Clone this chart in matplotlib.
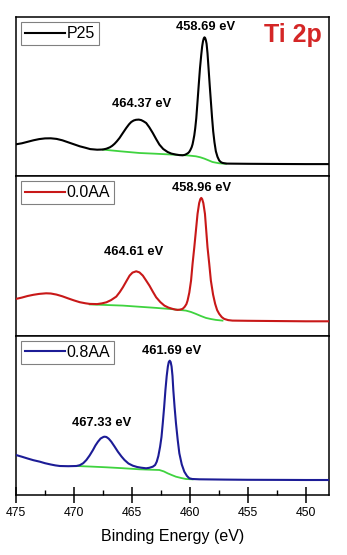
import matplotlib
matplotlib.use("Agg")
import matplotlib.pyplot as plt
from matplotlib.ticker import MultipleLocator

plt.rcParams['font.family'] = ['Liberation Sans', 'DejaVu Sans']

# ---------------- data (binding energy in eV, intensity in arbitrary units) ----------------
p25_energy = [475.0, 474.5, 474.0, 473.5, 473.0, 472.5, 472.0, 471.5, 471.0, 470.5, 470.0,
              469.5, 469.0, 468.6, 468.0, 467.5, 467.2, 466.9, 466.7, 466.5, 466.3, 466.07,
              465.8, 465.49, 465.25, 465.06, 464.85, 464.65, 464.41, 464.2, 464.0, 463.77,
              463.5, 463.2, 462.9, 462.63, 462.3, 461.92, 461.6, 461.2, 460.9, 460.63,
              460.45, 460.3, 460.15, 460.05, 459.95, 459.85, 459.77, 459.7, 459.62, 459.54,
              459.45, 459.34, 459.24, 459.13, 459.02, 458.94, 458.87, 458.8, 458.74, 458.68,
              458.62, 458.56, 458.48, 458.39, 458.29, 458.19, 458.09, 457.99, 457.88, 457.76,
              457.62, 457.47, 457.33, 457.19, 457.0, 456.8, 455.0, 452.0, 450.0, 448.0]
p25_counts = [32.0, 33.0, 34.5, 36.0, 37.2, 37.9, 38.0, 37.4, 36.0, 34.0, 32.0,
              30.0, 28.5, 27.2, 26.6, 26.8, 27.6, 29.0, 30.5, 32.5, 35.0, 38.3,
              43.0, 48.3, 52.0, 54.3, 55.8, 56.5, 56.7, 56.2, 55.0, 53.3,
              49.0, 43.3, 37.0, 31.7, 27.3, 24.3, 22.7, 21.7, 21.2, 21.0,
              21.4, 22.2, 23.3, 24.5, 26.5, 29.0, 32.0, 36.0, 41.0, 48.0,
              58.0, 75.0, 91.0, 108.0, 121.5, 130.0, 135.0, 138.0, 139.0, 138.2,
              136.0, 132.5, 123.0, 108.0, 91.0, 75.0, 59.0, 45.0, 34.0, 25.0,
              19.5, 15.8, 14.2, 13.4, 13.0, 12.7, 12.5, 12.3, 12.2, 12.2]
p25_bg_energy = [467.5, 466.0, 464.35, 463.0, 461.5, 460.3, 459.48, 459.1, 458.76, 458.4,
                 458.05, 457.47, 456.9]
p25_bg_counts = [26.7, 25.0, 23.3, 22.6, 21.7, 21.0, 20.0, 19.0, 17.7, 16.0,
                 14.3, 13.0, 12.5]

aa00_energy = [475.0, 474.5, 474.0, 473.5, 473.0, 472.4, 472.0, 471.5, 471.0, 470.5, 470.0,
               469.5, 469.0, 468.64, 468.0, 467.6, 467.2, 466.8, 466.35, 466.05, 465.78,
               465.5, 465.2, 464.95, 464.63, 464.35, 464.06, 463.8, 463.49, 463.2, 462.91,
               462.55, 462.2, 461.85, 461.49, 461.25, 461.06, 460.85, 460.63, 460.45, 460.3,
               460.2, 460.05, 459.9, 459.77, 459.62, 459.48, 459.34, 459.2, 459.1, 459.02,
               458.94, 458.84, 458.7, 458.59, 458.48, 458.33, 458.19, 458.0, 457.82, 457.65,
               457.47, 457.25, 457.04, 456.7, 456.33, 455.0, 452.0, 450.0, 448.0]
aa00_counts = [36.7, 38.0, 39.6, 40.8, 41.7, 42.3, 42.1, 41.0, 39.3, 37.2, 35.2,
               33.4, 32.3, 31.7, 31.5, 32.2, 33.3, 35.5, 39.0, 43.5, 48.3,
               54.0, 60.0, 63.0, 64.3, 63.2, 60.0, 55.5, 50.0, 44.0, 38.3,
               33.5, 30.0, 28.0, 26.7, 26.0, 25.7, 26.0, 26.7, 28.8, 31.5,
               35.0, 43.0, 55.0, 71.7, 88.3, 105.0, 121.7, 132.5, 136.5, 137.7,
               136.5, 132.5, 121.7, 105.0, 88.3, 71.7, 55.0, 41.0, 31.7, 25.5,
               21.7, 18.5, 16.7, 15.5, 15.0, 14.8, 14.5, 14.3, 14.3]
aa00_bg_energy = [468.64, 467.2, 465.78, 464.3, 462.91, 461.5, 460.34, 459.9, 459.48,
                  459.05, 458.62, 458.2, 457.76, 457.19]
aa00_bg_counts = [31.2, 30.6, 30.0, 28.8, 27.7, 26.4, 25.0, 23.6, 21.7,
                  19.6, 17.7, 16.6, 15.7, 15.0]

aa08_energy = [475.0, 474.5, 474.0, 473.5, 472.94, 472.5, 472.0, 471.6, 471.22, 470.5, 469.79,
               469.5, 469.2, 468.93, 468.65, 468.36, 468.15, 467.93, 467.7, 467.45, 467.35,
               467.2, 467.0, 466.78, 466.5, 466.21, 465.9, 465.64, 465.3, 464.92, 464.55,
               464.2, 463.77, 463.5, 463.2, 463.0, 462.86, 462.72, 462.57, 462.45, 462.34,
               462.22, 462.11, 462.0, 461.9, 461.82, 461.74, 461.66, 461.58, 461.5, 461.43,
               461.32, 461.2, 461.05, 460.91, 460.7, 460.48, 460.25, 460.05, 459.8, 459.19,
               457.0, 455.0, 452.0, 450.0, 448.0]
aa08_counts = [40.0, 38.3, 36.5, 34.8, 33.3, 31.8, 30.5, 29.6, 29.0, 28.8, 29.0,
               29.8, 31.8, 35.0, 39.5, 45.0, 49.5, 53.3, 56.5, 58.1, 58.3,
               58.0, 56.3, 53.3, 48.5, 43.3, 38.5, 35.0, 31.5, 29.3, 28.0,
               27.3, 26.7, 27.2, 28.3, 30.0, 33.3, 39.0, 48.3, 58.0, 71.7,
               88.0, 105.0, 119.0, 128.5, 133.0, 134.3, 133.0, 128.5, 119.0, 105.0,
               88.0, 71.7, 55.0, 41.7, 30.5, 23.3, 19.0, 16.7, 16.0, 15.7,
               15.4, 15.2, 15.1, 15.0, 15.0]
aa08_bg_energy = [469.79, 468.5, 467.2, 465.8, 464.35, 463.4, 462.63, 462.25, 461.92,
                  461.55, 461.2, 460.75, 460.34, 459.77]
aa08_bg_counts = [29.0, 28.4, 27.7, 26.8, 25.7, 25.3, 25.0, 23.6, 21.7,
                  19.9, 18.3, 17.0, 16.0, 15.7]

samples = ['P25', '0.0AA', '0.8AA']
peak_labels = [['458.69 eV', '464.37 eV'], ['458.96 eV', '464.61 eV'], ['461.69 eV', '467.33 eV']]
label_pos = [[(458.62, 149.0), (464.2, 72.5)],
             [(459.0, 147.7), (464.85, 83.3)],
             [(461.6, 144.0), (467.6, 71.7)]]
colors = ['#000000', '#c81818', '#1c1c96']
xticks = [475, 470, 465, 460, 455, 450]

spectra = [(p25_energy, p25_counts, p25_bg_energy, p25_bg_counts),
           (aa00_energy, aa00_counts, aa00_bg_energy, aa00_bg_counts),
           (aa08_energy, aa08_counts, aa08_bg_energy, aa08_bg_counts)]

# ---------------- figure ----------------
W, H = 347, 555
fig = plt.figure(figsize=(W / 100, H / 100), dpi=100)
left = 16 / W
width = (329 - 16) / W
tops = [17, 176.3, 335.7]
ph = 159.3

axes = []
for i in range(3):
    bottom = 1 - (tops[i] + ph) / H
    ax = fig.add_axes([left, bottom, width, ph / H])
    axes.append(ax)
    e, c, be, bc = spectra[i]
    ax.plot(be, bc, color='#3fd33f', lw=1.3, zorder=2)
    ax.plot(e, c, color=colors[i], lw=1.5, label=samples[i], zorder=3)
    ax.set_xlim(475, 448)
    ax.set_ylim(0, 159.3)
    ax.set_yticks([])
    for s in ax.spines.values():
        s.set_linewidth(1.1)
    leg = ax.legend(loc='upper left', fontsize=11.5, handlelength=2.5, handletextpad=0.1,
                    borderpad=0.25, borderaxespad=0.32, fancybox=False, framealpha=1,
                    edgecolor='#808080', frameon=True)
    leg.get_frame().set_linewidth(0.8)
    for lab, (x, y) in zip(peak_labels[i], label_pos[i]):
        ax.text(x, y, lab, ha='center', va='center', fontsize=9.3, fontweight='bold')
    if i < 2:
        ax.set_xticks([])
    else:
        ax.set_xticks(xticks)
        ax.xaxis.set_minor_locator(MultipleLocator(2.5))
        ax.tick_params(axis='x', which='major', direction='inout', length=12, width=1.1,
                       labelsize=8.8, pad=3)
        ax.tick_params(axis='x', which='minor', direction='in', length=3.5, width=1.0)
        ax.set_xlabel('Binding Energy (eV)', fontsize=11.5, labelpad=7)

axes[0].text(0.885, 0.885, 'Ti 2p', transform=axes[0].transAxes, ha='center', va='center',
             fontsize=18, fontweight='bold', color='#d42626')

fig.savefig('out.png', dpi=100)
